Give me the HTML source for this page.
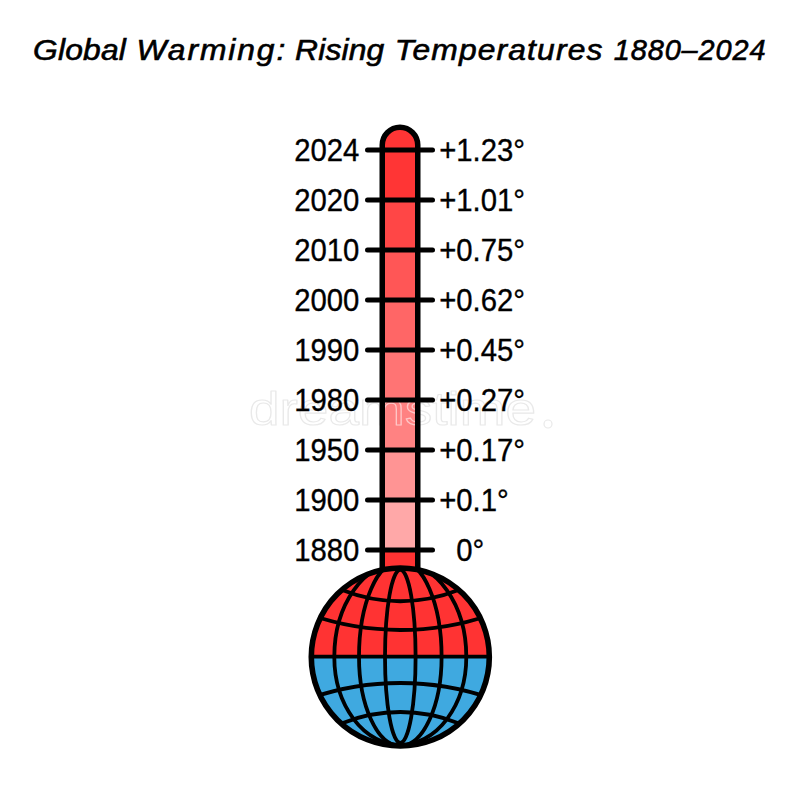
<!DOCTYPE html>
<html><head><meta charset="utf-8">
<style>
html,body{margin:0;padding:0;background:#fff;}
body{width:800px;height:800px;overflow:hidden;position:relative;}
svg{position:absolute;left:0;top:0;}
.lab{font-family:"Liberation Sans",sans-serif;fill:#000;stroke:#000;}
.title{font-family:"Liberation Sans",sans-serif;font-style:italic;fill:#000;stroke:#000;}
</style></head>
<body>
<svg width="800" height="800" viewBox="0 0 800 800">
<defs>
<clipPath id="gc"><circle cx="400.3" cy="657" r="89"/></clipPath>
</defs>
<text class="title" transform="translate(33,59.6) scale(1.1,1)" style="font-size:28.9px;letter-spacing:0.2px;stroke-width:0.6px">Global</text>
<text class="title" transform="translate(136.5,59.6) scale(1.1,1)" style="font-size:28.9px;letter-spacing:1.74px;stroke-width:0.6px">Warming:</text>
<text class="title" transform="translate(295,59.6) scale(1.1,1)" style="font-size:28.9px;letter-spacing:0.18px;stroke-width:0.6px">Rising</text>
<text class="title" transform="translate(394.8,59.6) scale(1.1,1)" style="font-size:28.9px;letter-spacing:1.05px;stroke-width:0.6px">Temperatures</text>
<text class="title" transform="translate(613.75,59.6) scale(1.0,1)" style="font-size:28.9px;letter-spacing:0.9px;stroke-width:0.6px">1880–2024</text>
<path d="M381.75 150 L381.75 145 A18.25 18.25 0 0 1 418.25 145 L418.25 150 Z" fill="#ff3535"/>
<rect x="381.75" y="150" width="36.5" height="50" fill="#ff3535"/>
<rect x="381.75" y="200" width="36.5" height="50" fill="#ff4646"/>
<rect x="381.75" y="250" width="36.5" height="50" fill="#ff5656"/>
<rect x="381.75" y="300" width="36.5" height="50" fill="#ff6666"/>
<rect x="381.75" y="350" width="36.5" height="50" fill="#ff7474"/>
<rect x="381.75" y="400" width="36.5" height="50" fill="#ff8282"/>
<rect x="381.75" y="450" width="36.5" height="50" fill="#ff9494"/>
<rect x="381.75" y="500" width="36.5" height="50" fill="#ffa8a8"/>
<rect x="381.75" y="550" width="36.5" height="30" fill="#ff3333"/>
<defs><clipPath id="tc"><rect x="385" y="100" width="30" height="480"/></clipPath><clipPath id="nc"><path d="M0 0H800V800H0Z M385 100V580H415V100Z" clip-rule="evenodd"/></clipPath></defs>
<g clip-path="url(#nc)" stroke="#e9e9e9"><text x="249" y="425" textLength="287" lengthAdjust="spacingAndGlyphs" style="font-family:'Liberation Sans',sans-serif;font-size:46px;fill:none;stroke-width:1.1px;stroke-linejoin:round">dreamstime</text><circle cx="548" cy="424" r="4" fill="none" stroke-width="1.2"/></g>
<g clip-path="url(#tc)" stroke="rgba(255,255,255,0.55)"><text x="249" y="425" textLength="287" lengthAdjust="spacingAndGlyphs" style="font-family:'Liberation Sans',sans-serif;font-size:46px;fill:none;stroke-width:1.1px;stroke-linejoin:round">dreamstime</text></g>
<path d="M382.25 600 L382.25 145 A17.75 17.75 0 0 1 417.75 145 L417.75 600" fill="none" stroke="#000" stroke-width="5.5"/>
<g stroke="#000" stroke-width="5.0" stroke-linecap="round">
<line x1="367.5" y1="150" x2="432.5" y2="150"/>
<line x1="367.5" y1="200" x2="432.5" y2="200"/>
<line x1="367.5" y1="250" x2="432.5" y2="250"/>
<line x1="367.5" y1="300" x2="432.5" y2="300"/>
<line x1="367.5" y1="350" x2="432.5" y2="350"/>
<line x1="367.5" y1="400" x2="432.5" y2="400"/>
<line x1="367.5" y1="450" x2="432.5" y2="450"/>
<line x1="367.5" y1="500" x2="432.5" y2="500"/>
<line x1="367.5" y1="550" x2="432.5" y2="550"/>
</g>
<text class="lab" text-anchor="end" transform="translate(359.3,160.5) scale(0.945,1)" style="font-size:31px;stroke-width:0.35px">2024</text>
<text class="lab" transform="translate(439.2,160.5) scale(0.945,1)" style="font-size:31px;stroke-width:0.35px">+1.23°</text>
<text class="lab" text-anchor="end" transform="translate(359.3,210.5) scale(0.945,1)" style="font-size:31px;stroke-width:0.35px">2020</text>
<text class="lab" transform="translate(439.2,210.5) scale(0.945,1)" style="font-size:31px;stroke-width:0.35px">+1.01°</text>
<text class="lab" text-anchor="end" transform="translate(359.3,260.5) scale(0.945,1)" style="font-size:31px;stroke-width:0.35px">2010</text>
<text class="lab" transform="translate(439.2,260.5) scale(0.945,1)" style="font-size:31px;stroke-width:0.35px">+0.75°</text>
<text class="lab" text-anchor="end" transform="translate(359.3,310.5) scale(0.945,1)" style="font-size:31px;stroke-width:0.35px">2000</text>
<text class="lab" transform="translate(439.2,310.5) scale(0.945,1)" style="font-size:31px;stroke-width:0.35px">+0.62°</text>
<text class="lab" text-anchor="end" transform="translate(359.3,360.5) scale(0.945,1)" style="font-size:31px;stroke-width:0.35px">1990</text>
<text class="lab" transform="translate(439.2,360.5) scale(0.945,1)" style="font-size:31px;stroke-width:0.35px">+0.45°</text>
<text class="lab" text-anchor="end" transform="translate(359.3,410.5) scale(0.945,1)" style="font-size:31px;stroke-width:0.35px">1980</text>
<text class="lab" transform="translate(439.2,410.5) scale(0.945,1)" style="font-size:31px;stroke-width:0.35px">+0.27°</text>
<text class="lab" text-anchor="end" transform="translate(359.3,460.5) scale(0.945,1)" style="font-size:31px;stroke-width:0.35px">1950</text>
<text class="lab" transform="translate(439.2,460.5) scale(0.945,1)" style="font-size:31px;stroke-width:0.35px">+0.17°</text>
<text class="lab" text-anchor="end" transform="translate(359.3,510.5) scale(0.945,1)" style="font-size:31px;stroke-width:0.35px">1900</text>
<text class="lab" transform="translate(439.2,510.5) scale(0.945,1)" style="font-size:31px;stroke-width:0.35px">+0.1°</text>
<text class="lab" text-anchor="end" transform="translate(359.3,560.5) scale(0.945,1)" style="font-size:31px;stroke-width:0.35px">1880</text>
<text class="lab" transform="translate(456.3,560.5) scale(0.945,1)" style="font-size:31px;stroke-width:0.35px">0°</text>
<g clip-path="url(#gc)">
<rect x="300" y="550" width="200" height="106.60000000000002" fill="#ff3333"/>
<rect x="300" y="656.6" width="200" height="120" fill="#3fa9e0"/>
<g fill="none" stroke="#000" stroke-width="3.8">
<path d="M385.0 656.8 A15.3 87 0 0 1 415.6 656.8 A15.3 86 0 0 1 385.0 656.8 Z"/>
<path d="M359.0 656.8 A41.3 96 0 0 1 441.6 656.8 A41.3 89 0 0 1 359.0 656.8 Z"/>
<path d="M334.3 656.8 A66 94 0 0 1 466.3 656.8 A66 88 0 0 1 334.3 656.8 Z"/>
<line x1="300" y1="656.6" x2="500" y2="656.6"/>
<circle cx="400.3" cy="445.25" r="156"/>
<circle cx="400.3" cy="355" r="275"/>
<circle cx="400.3" cy="958" r="275"/>
<circle cx="400.3" cy="868" r="156"/>
</g></g>
<circle cx="400.3" cy="657" r="89" fill="none" stroke="#000" stroke-width="5.6"/>
</svg>
</body></html>
